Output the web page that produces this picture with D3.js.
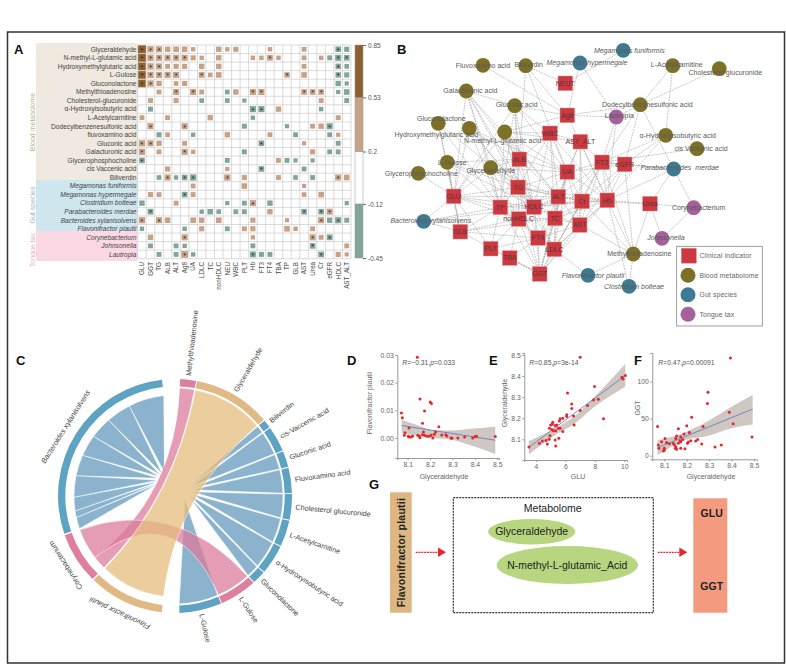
<!DOCTYPE html>
<html>
<head>
<meta charset="utf-8">
<script src="https://cdn.jsdelivr.net/npm/d3@7"></script>
<style>
  body { margin: 0; background: #fff; }
  text { font-family: "Liberation Sans", Arial, sans-serif; }
</style>
</head>
<body>
<svg id="chart"></svg>
<script>
// ---- panel A data ----
const heatRowNames = ["Glyceraldehyde", "N-methyl-L-glutamic acid", "Hydroxymethylglutaric acid", "L-Gulose", "Gluconolactone",
  "Methylthioadenosine", "Cholesterol-glucuronide", "α-Hydroxyisobutyric acid", "L-Acetylcarnitine", "Dodecylbenzenesulfonic acid",
  "fluvoxamino acid", "Gluconic acid", "Galacturonic acid", "Glycerophosphocholine", "cis Vaccenic acid", "Biliverdin",
  "Megamonas funiformis", "Megamonas hypermegale", "Clostridium bolteae", "Parabacteroides merdae", "Bacteroides xylanisolvens",
  "Flavonifractor plautii", "Corynebacterium", "Johnsonella", "Lautropia"];
const heatColNames = ["GLU", "GGT", "TG", "ALB", "ALT", "Ag8", "UA", "LDLC", "TC", "nonHDLC", "NEU", "WBC", "PLT", "Hb", "FT3",
  "FT4", "TBA", "TP", "GLB", "AST", "Urea", "Cr", "eGFR", "HDLC", "AST_ALT"];
// one list per row: [column index, correlation, significant]
const heatCells = [
  [[0,.7,1],[1,.45,1],[2,.42,1],[3,.33],[4,.36],[5,.36],[6,.22],[9,.33],[10,.22],[11,.3],[15,.22],[19,.27],[23,-.36,1],[24,-.3]],
  [[0,.68,1],[1,.45,1],[2,.42,1],[3,.42,1],[4,.42,1],[5,.42,1],[6,.3],[7,.22],[9,.33],[13,.23],[14,.23],[15,.38,1],[16,.23],[19,.27],[21,.23],[22,-.28],[23,-.42,1],[24,-.36,1]],
  [[0,.66,1],[1,.45,1],[2,.42,1],[3,.27],[4,.3],[5,.3],[7,.33],[9,.33],[19,.27],[23,-.34,1],[24,-.25]],
  [[0,.66,1],[1,.45,1],[2,.42,1],[3,.42,1],[4,.42,1],[7,.38,1],[8,.25],[9,.36],[17,.34,1],[19,.36],[23,-.34,1],[24,-.3]],
  [[0,.64,1],[1,.45,1],[2,.33],[4,.25],[5,.3],[23,-.33],[24,-.2]],
  [[2,.27],[4,.42,1],[6,.42,1],[7,.27],[10,-.25],[11,.33],[13,.42,1],[14,.42,1],[19,.36,1],[20,.36,1],[21,.36,1],[23,-.2],[24,-.36]],
  [[1,.27],[4,.3],[7,-.25],[10,-.25],[12,-.2],[21,.27],[24,-.28]],
  [[1,-.28],[13,-.42,1],[14,-.42,1],[16,.33],[21,-.22]],
  [[0,.27],[3,.27],[8,.33],[13,-.22],[23,.27]],
  [[1,.42,1],[5,.42,1],[12,-.28],[17,-.2],[20,.27],[21,.33],[22,-.42,1]],
  [[2,-.3],[3,.25],[6,-.22],[10,.33],[15,.27],[18,-.27],[22,-.27],[23,.2]],
  [[0,.45,1],[1,.42,1],[2,.33],[5,.27],[14,-.36,1],[19,.2],[23,-.27]],
  [[0,.45,1],[2,.27],[5,.42,1],[6,.22],[12,-.28],[20,.3],[22,-.27],[23,-.27]],
  [[0,-.36,1],[10,-.27],[16,.27],[17,-.27],[18,-.2],[20,-.2]],
  [[3,.3],[10,.2],[14,-.36,1],[19,-.27]],
  [[2,-.25],[3,.42,1],[4,-.22],[5,-.36,1],[6,-.44,1],[10,.45,1],[12,.3],[16,.27],[18,-.25],[20,-.27],[23,.42,1],[24,.36]],
  [[6,.27],[12,.36],[19,.2]],
  [[1,.3],[2,.27],[5,-.36,1],[6,.27],[19,.25],[21,.36]],
  [[0,-.33],[4,.27],[10,-.2],[12,-.27],[13,.42,1],[15,-.33],[24,-.2]],
  [[1,-.38,1],[7,-.22],[8,-.36],[9,-.25],[11,-.27],[12,-.27],[15,.33],[19,-.36,1],[21,-.36,1],[22,.42,1]],
  [[0,.45,1],[2,.42,1],[3,.36],[6,.36],[7,.33],[9,.36],[13,.3],[17,.2],[21,.42,1],[22,-.33],[23,-.44,1],[24,-.28]],
  [[0,-.22],[5,-.22],[7,.3],[10,-.27],[12,.27],[13,.3],[17,.36],[18,.23],[20,.27]],
  [[1,.33],[5,.42,1],[13,.22],[20,.42,1],[21,.27],[22,-.38,1]],
  [[1,-.27],[4,-.27],[5,-.22],[13,-.27],[20,-.36,1],[24,.27]],
  [[2,-.27],[4,-.27],[5,.52,1],[6,-.22],[13,-.4,1],[14,-.28],[15,-.28],[21,-.38,1],[23,.3],[24,.2]]
];
const italicFrom = 16;
const colorbarTicks = [-0.45, -0.12, 0.2, 0.53, 0.85];

// ---- panel B data ----
const clinicalNodes = ["NEUT", "Ag8", "WBC", "AST_ALT", "ALB", "UA", "FT3", "eGFR", "TG", "GLU", "ALT", "Cr", "Hb", "Urea", "TP", "HDLC",
  "nonHDLC", "TC", "AST", "GLB", "FT4", "LDLC", "PLT", "TBA", "GGT"];
const metaboliteNodes = ["Fluvoxamino acid", "Biliverdin", "Galacturonic acid", "Gluconic acid", "Gluconolactone", "Hydroxymethylglutaric acid",
  "N-methyl-L-glutamic acid", "L-Gulose", "Glyceraldehyde", "Glycerophosphocholine", "L-Acetylcarnitine", "Cholesterol glucuronide",
  "Dodecylbenzenesulfonic acid", "α-Hydroxyisobutyric acid", "cis Vaccenic acid", "Methylthioadenosine"];
const gutNodes = ["Megamonas funiformis", "Megamonas hypermegale", "Parabacteroides  merdae", "Bacteroides xylanisolvens", "Flavonifractor plautii", "Clostridium bolteae"];
const tongueNodes = ["Lautropia", "Corynebacterium", "Johnsonella"];
const networkLegend = ["Clinical indicator", "Blood metabolome", "Gut species", "Tongue tax"];
// edges written as node -> neighbours
const networkEdges = [
  ["GGT", ["FT4", "LDLC", "TC", "AST", "HDLC", "TP", "nonHDLC", "Cr", "ALT", "TG", "UA", "Hb", "PLT", "TBA", "GLB"]],
  ["LDLC", ["FT4", "TC", "AST", "Cr", "ALT", "HDLC", "nonHDLC", "Hb", "TG", "UA", "FT3"]],
  ["FT4", ["TC", "nonHDLC", "HDLC", "ALT", "Cr", "PLT", "TP", "AST", "GLB", "TG", "TBA"]],
  ["TC", ["HDLC", "AST", "Cr", "ALT", "nonHDLC", "TG", "UA", "Hb", "FT3", "WBC", "GLB"]],
  ["AST", ["Cr", "ALT", "Hb", "FT3", "eGFR", "UA", "HDLC", "AST_ALT"]],
  ["Cr", ["ALT", "Hb", "Urea", "UA", "FT3", "eGFR", "HDLC", "TG", "TP", "AST_ALT"]],
  ["Hb", ["ALT", "UA", "FT3", "eGFR", "Urea", "HDLC", "TG", "WBC", "AST_ALT", "Ag8"]],
  ["ALT", ["HDLC", "TG", "UA", "WBC", "ALB", "AST_ALT", "FT3", "TP", "GLU", "nonHDLC"]],
  ["HDLC", ["TP", "nonHDLC", "TG", "GLU", "ALB", "UA", "WBC"]],
  ["TP", ["GLU", "TG", "nonHDLC", "GLB", "ALB", "PLT"]],
  ["TG", ["GLU", "ALB", "UA", "WBC", "nonHDLC"]],
  ["nonHDLC", ["GLU", "GLB", "PLT", "TBA"]],
  ["UA", ["WBC", "AST_ALT", "FT3", "eGFR", "ALB"]],
  ["WBC", ["ALB", "AST_ALT", "Ag8"]],
  ["FT3", ["eGFR", "AST_ALT"]],
  ["GLU", ["GLB", "PLT"]],
  ["Galacturonic acid", ["GLU", "TG", "ALB", "TP", "HDLC", "ALT", "Gluconic acid", "Glyceraldehyde"]],
  ["Gluconic acid", ["GLU", "TG", "ALB", "UA", "Ag8", "HDLC", "TP", "WBC"]],
  ["Gluconolactone", ["GLU", "TG", "GLB", "TP"]],
  ["Hydroxymethylglutaric acid", ["GLU", "TG", "ALB", "TP", "HDLC", "UA"]],
  ["N-methyl-L-glutamic acid", ["GLU", "TG", "ALB", "ALT", "UA", "WBC", "Ag8", "AST_ALT", "HDLC", "TP"]],
  ["L-Gulose", ["GLU", "TG", "TP", "GLB", "HDLC", "ALB"]],
  ["Glyceraldehyde", ["GLU", "TG", "HDLC", "TP", "ALB", "ALT", "UA", "nonHDLC"]],
  ["Glycerophosphocholine", ["GLU"]],
  ["Biliverdin", ["NEUT", "Ag8", "ALB", "UA"]],
  ["Fluvoxamino acid", ["Ag8"]],
  ["Megamonas funiformis", ["NEUT"]],
  ["Megamonas hypermegale", ["Ag8", "Lautropia"]],
  ["L-Acetylcarnitine", ["Dodecylbenzenesulfonic acid", "α-Hydroxyisobutyric acid"]],
  ["Cholesterol glucuronide", ["Dodecylbenzenesulfonic acid"]],
  ["Dodecylbenzenesulfonic acid", ["Ag8", "Lautropia", "eGFR", "FT3", "Parabacteroides  merdae"]],
  ["α-Hydroxyisobutyric acid", ["FT3", "eGFR", "Hb"]],
  ["cis Vaccenic acid", ["FT3"]],
  ["Parabacteroides  merdae", ["Urea", "Corynebacterium", "FT3", "eGFR", "Hb"]],
  ["Corynebacterium", ["Urea", "Johnsonella"]],
  ["Johnsonella", ["Urea"]],
  ["Lautropia", ["FT3", "Ag8", "Hb"]],
  ["Methylthioadenosine", ["Hb", "Urea", "AST", "Cr", "eGFR", "FT3", "Flavonifractor plautii", "Clostridium bolteae"]],
  ["Flavonifractor plautii", ["LDLC"]],
  ["Clostridium bolteae", ["Hb"]],
  ["Bacteroides xylanisolvens", ["GLU", "TP", "HDLC", "GLB"]]
];

// ---- panel C data ----
const chordSources = ["Methylthioadenosine", "Glyceraldehyde", "Biliverdin", "cis-Vaccenic acid", "Gluconic acid", "Fluvoxamino acid",
  "Cholesterol glucuronide", "L-Acetylcarnitine", "α-Hydroxyisobutyric acid", "Gluconolactone", "L-Gulose ", "L-Gulose"];
const chordValues = [7.9, 38.5, 4, 12.6, 8, 12.5, 12.7, 13, 14.6, 6.6, 18.4, 21];
const chordTargets = ["Corynebacterium", "Flavonifractor plautii", "Bacteroides xylanisolvens", "Bacteroides xylanisolvens", "Bacteroides xylanisolvens", "Bacteroides xylanisolvens",
  "Bacteroides xylanisolvens", "Bacteroides xylanisolvens", "Bacteroides xylanisolvens", "Bacteroides xylanisolvens", "Corynebacterium", "Bacteroides xylanisolvens"];
const chordTargetNames = ["Flavonifractor plautii", "Corynebacterium", "Bacteroides xylanisolvens"];
// order of the links inside the target sectors, clockwise
const chordTargetOrder = ["Glyceraldehyde", "Methylthioadenosine", "L-Gulose ", "Gluconolactone", "Biliverdin", "Gluconic acid", "Fluvoxamino acid",
  "cis-Vaccenic acid", "Cholesterol glucuronide", "L-Acetylcarnitine", "α-Hydroxyisobutyric acid", "L-Gulose"];

// ---- panel D data ----
const dX = [8.143, 8.155, 8.2, 8.206, 8.175, 8.072, 8.076, 8.166, 8.239, 8.106, 8.088, 8.085, 8.103, 8.115, 8.106, 8.122, 8.145, 8.152, 8.155, 8.166,
  8.17, 8.175, 8.185, 8.196, 8.204, 8.212, 8.219, 8.225, 8.252, 8.27, 8.275, 8.293, 8.297, 8.324, 8.354, 8.39, 8.401, 8.407, 8.491];
const dY = [.0292, .0141, .013, .0125, .0098, .009, .0073, .0053, .0041, .0036, .0019, .001, .0006, .0004, .0004, .0007, .001, .0006, .0001, .0012,
  .0022, .001, .0006, .0006, .001, 0, .0014, .0022, .0011, .0012, .0007, 0, -.0001, 0, .0004, 0, .0005, .0006, .0005];
const dFitX = [8.073, 8.491];
const dFitY = [.0045, -.0008];
const dBandX = [8.073, 8.148, 8.222, 8.297, 8.394, 8.491];
const dBandHi = [.0066, .0045, .0027, .0027, .0034, .0042];
const dBandLo = [.0018, .0008, 0, -.0006, -.003, -.0058];

// ---- panel E data ----
const eX = [7, 6.14, 7.98, 9.84, 9.91, 10.07, 6.43, 6.43, 8.23, 7.91, 7.5, 7, 8.59, 6.59, 6.55, 6.09, 6.09, 5.82, 5.64, 5.59, 5.14, 5.11, 5, 5.3, 5.41, 4.91,
  5.07, 5.18, 5.34, 5.52, 5.64, 5.82, 4.95, 5.55, 5.3, 4.89, 4.68, 4.43, 4.23, 4.77, 5.34, 3.52];
const eY = [8.489, 8.32, 8.351, 8.394, 8.386, 8.403, 8.268, 8.246, 8.29, 8.287, 8.26, 8.237, 8.197, 8.168, 8.211, 8.216, 8.208, 8.2, 8.197, 8.187, 8.181, 8.171, 8.168, 8.165, 8.168, 8.152,
  8.146, 8.14, 8.14, 8.152, 8.152, 8.137, 8.117, 8.105, 8.097, 8.1, 8.094, 8.092, 8.081, 8.078, 8.068, 8.063];
const eFitX = [3.52, 10.07];
const eFitY = [8.062, 8.403];
const eBandX = [3.52, 5.5, 6.5, 8, 10.07];
const eBandHi = [8.092, 8.16, 8.203, 8.303, 8.457];
const eBandLo = [8.029, 8.129, 8.168, 8.256, 8.351];

// ---- panel F data ----
const fX = [8.395, 8.295, 8.292, 8.39, 8.407, 8.491, 8.222, 8.273, 8.2, 8.07, 8.163, 8.212, 8.188, 8.173, 8.155, 8.151, 8.103, 8.088, 8.073, 8.076, 8.11, 8.122,
  8.14, 8.145, 8.152, 8.149, 8.155, 8.173, 8.173, 8.163, 8.1, 8.1, 8.096, 8.192, 8.203, 8.207, 8.218, 8.24, 8.249, 8.267, 8.326, 8.354, 8.182, 8.17];
const fY = [132, 85.6, 70.7, 58.6, 43.2, 25.2, 51.8, 39.6, 40.5, 39.6, 36.5, 31.5, 29.3, 25.7, 26.6, 23.4, 23.4, 18.9, 14.4, 9.9, 18, 16.2,
  16.7, 14.4, 12.2, 9.9, 8.6, 9.9, 18.9, 16.7, 9.9, 7.7, 6.3, 9.5, 16.7, 18.5, 20.3, 19.8, 22, 15.8, 11.7, 14.4, 22, 20.3];
const fFitX = [8.07, 8.494];
const fFitY = [10.8, 63];
const fBandX = [8.07, 8.192, 8.296, 8.4, 8.494];
const fBandHi = [21, 31.5, 46.8, 66, 82];
const fBandLo = [1, 21, 27, 37, 42];

const svgWidth = 786, svgHeight = 665;
const textColor = "#555";
const chart = d3.select("#chart").attr("width", svgWidth).attr("height", svgHeight);

chart.append("rect").attr("x", 7.5).attr("y", 32).attr("width", 777).attr("height", 631)
  .attr("fill", "#fff").attr("stroke", "#333").attr("stroke-width", 1.5);

function panelLetter(label, x, y) {
  chart.append("text").attr("x", x).attr("y", y).attr("font-size", 13).attr("font-weight", "bold").attr("fill", "#111").text(label);
}
panelLetter("A", 14, 54);
panelLetter("B", 397, 54);
panelLetter("C", 16, 365);
panelLetter("D", 347, 365);
panelLetter("E", 489, 365);
panelLetter("F", 634, 365);
panelLetter("G", 369, 489);

// ---- A: correlation heatmap ----
function drawHeatmap() {
  const g = chart.append("g");
  const xScale = d3.scaleBand().domain(heatColNames).range([137.7, 351]);
  const yScale = d3.scaleBand().domain(heatRowNames).range([45, 258.7]);
  const size = d3.scaleSqrt().domain([0, 0.85]).range([0, 8.6]);
  const color = d3.scaleThreshold().domain([-0.12, 0.2, 0.53]).range(["#82a599", "#fff", "#c6a287", "#8f602f"]);

  g.append("rect").attr("x", 36).attr("y", 43).attr("width", 101.7).attr("height", 137).attr("fill", "#efe9df");
  g.append("rect").attr("x", 36).attr("y", 180).attr("width", 101.7).attr("height", 51).attr("fill", "#cfe6ef");
  g.append("rect").attr("x", 36).attr("y", 231).attr("width", 101.7).attr("height", 30).attr("fill", "#fbd9e4");

  [["Blood metabolome", 122, "#bcb27c"], ["Gut species", 205, "#9dbac4"], ["Tongue tax", 250, "#e5b5ca"]].forEach(function(d) {
    g.append("text").attr("transform", "translate(35," + d[1] + ") rotate(-90)")
      .attr("text-anchor", "middle").attr("font-size", 7).attr("fill", d[2]).text(d[0]);
  });

  xScale.domain().concat("end").forEach(function(c, i) {
    const x = 137.7 + i * xScale.bandwidth();
    g.append("line").attr("x1", x).attr("x2", x).attr("y1", 45).attr("y2", 258.7).attr("stroke", "#ccc").attr("stroke-width", 0.7);
  });
  yScale.domain().concat("end").forEach(function(c, i) {
    const y = 45 + i * yScale.bandwidth();
    g.append("line").attr("x1", 137.7).attr("x2", 351).attr("y1", y).attr("y2", y).attr("stroke", "#ccc").attr("stroke-width", 0.7);
  });

  heatCells.forEach(function(cells, r) {
    const yc = yScale(heatRowNames[r]) + yScale.bandwidth() / 2;
    cells.forEach(function(c) {
      const xc = xScale(heatColNames[c[0]]) + xScale.bandwidth() / 2;
      const s = size(Math.abs(c[1]));
      g.append("rect").attr("x", xc - s / 2).attr("y", yc - s / 2).attr("width", s).attr("height", s).attr("fill", color(c[1]));
      if (c[2]) {
        g.append("text").attr("x", xc).attr("y", yc + 3.4).attr("text-anchor", "middle").attr("font-size", 7).attr("fill", "#222").text("*");
      }
    });
  });

  g.selectAll(".rowname").data(heatRowNames).enter().append("text")
    .attr("x", 136.5).attr("y", d => yScale(d) + yScale.bandwidth() / 2 + 2.3)
    .attr("text-anchor", "end").attr("font-size", 6.6).attr("fill", "#444")
    .attr("font-style", (d, i) => i >= italicFrom ? "italic" : "normal")
    .text(d => d);

  g.selectAll(".colname").data(heatColNames).enter().append("text")
    .attr("transform", d => "translate(" + (xScale(d) + xScale.bandwidth() / 2 + 2.3) + ",262) rotate(-90)")
    .attr("text-anchor", "end").attr("font-size", 6.3).attr("fill", "#444").text(d => d);

  // colour bar
  const cbScale = d3.scaleLinear().domain([-0.45, 0.85]).range([258, 45]);
  const pairs = d3.pairs(colorbarTicks);
  g.selectAll(".cb").data(pairs).enter().append("rect")
    .attr("x", 355).attr("width", 8)
    .attr("y", d => cbScale(d[1])).attr("height", d => cbScale(d[0]) - cbScale(d[1]))
    .attr("fill", d => color((d[0] + d[1]) / 2))
    .attr("stroke", "#999").attr("stroke-width", 0.5);
  const cbAxis = g.append("g").attr("transform", "translate(363,0)")
    .call(d3.axisRight(cbScale).tickValues(colorbarTicks).tickFormat(d => d).tickSize(3).tickPadding(2));
  cbAxis.select(".domain").remove();
  cbAxis.selectAll("line").attr("stroke", "#666");
  cbAxis.selectAll("text").attr("font-size", 6.5).attr("fill", textColor).attr("font-family", "Liberation Sans");
}
drawHeatmap();

// ---- B: network ----
function drawNetwork() {
  const g = chart.append("g");
  // layout units of the drawing, mapped by two scales
  const layoutX = {NEUT: 165.3, Ag8: 167.3, WBC: 150, AST_ALT: 180.3, ALB: 119.3, UA: 167.3, FT3: 202, eGFR: 224.7, TG: 118, GLU: 53.7, ALT: 158.3, Cr: 182, Hb: 207.3,
    Urea: 250, TP: 100.3, HDLC: 134, nonHDLC: 118.7, TC: 155, AST: 179.7, GLB: 60.3, FT4: 138, LDLC: 154.3, PLT: 90.7, TBA: 109.7, GGT: 139.7,
    "Fluvoxamino acid": 83, "Biliverdin": 125.7, "Galacturonic acid": 66.3, "Gluconic acid": 114.7, "Gluconolactone": 38.3, "Hydroxymethylglutaric acid": 69.3,
    "N-methyl-L-glutamic acid": 104.7, "L-Gulose": 47.3, "Glyceraldehyde": 90.7, "Glycerophosphocholine": 18.3, "L-Acetylcarnitine": 272.7, "Cholesterol glucuronide": 319.3,
    "Dodecylbenzenesulfonic acid": 240.3, "α-Hydroxyisobutyric acid": 265.7, "cis Vaccenic acid": 297, "Methylthioadenosine": 233.3,
    "Megamonas funiformis": 223.3, "Megamonas hypermegale": 180, "Parabacteroides  merdae": 273.7, "Bacteroides xylanisolvens": 23.7, "Flavonifractor plautii": 188, "Clostridium bolteae": 229,
    "Lautropia": 216.3, "Corynebacterium": 293.7, "Johnsonella": 262};
  const layoutY = {NEUT: 83.3, Ag8: 115.3, WBC: 133.3, AST_ALT: 141.7, ALB: 159.3, UA: 172, FT3: 162.3, eGFR: 164.3, TG: 187.3, GLU: 196.3, ALT: 196.7, Cr: 201.3, Hb: 200.3,
    Urea: 203.7, TP: 207.3, HDLC: 207, nonHDLC: 219, TC: 218.3, AST: 225, GLB: 231.7, FT4: 238, LDLC: 249.3, PLT: 248.7, TBA: 258, GGT: 274,
    "Fluvoxamino acid": 65.3, "Biliverdin": 65.7, "Galacturonic acid": 91, "Gluconic acid": 105.7, "Gluconolactone": 123.3, "Hydroxymethylglutaric acid": 128.3,
    "N-methyl-L-glutamic acid": 132, "L-Gulose": 162.3, "Glyceraldehyde": 167.7, "Glycerophosphocholine": 173.3, "L-Acetylcarnitine": 65.7, "Cholesterol glucuronide": 68.7,
    "Dodecylbenzenesulfonic acid": 104.7, "α-Hydroxyisobutyric acid": 135.3, "cis Vaccenic acid": 148.7, "Methylthioadenosine": 254,
    "Megamonas funiformis": 50.3, "Megamonas hypermegale": 63, "Parabacteroides  merdae": 169, "Bacteroides xylanisolvens": 221.3, "Flavonifractor plautii": 275.3, "Clostridium bolteae": 286.3,
    "Lautropia": 117, "Corynebacterium": 207.7, "Johnsonella": 238.3};
  const labelShift = {"Hydroxymethylglutaric acid": [-33, 6], "N-methyl-L-glutamic acid": [-2, 9], "Gluconolactone": [3, -5], "Glyceraldehyde": [0, 3],
    "α-Hydroxyisobutyric acid": [12, 0], "Cholesterol glucuronide": [6, 4], "Galacturonic acid": [4, 0], "Gluconic acid": [2, -1], "L-Gulose": [5, 0],
    "Megamonas funiformis": [6, 0], "Megamonas hypermegale": [7, 0], "Dodecylbenzenesulfonic acid": [7, 0], "L-Acetylcarnitine": [4, -1], "Biliverdin": [3, -1],
    "cis Vaccenic acid": [4, 0], "Parabacteroides  merdae": [6, -1], "Corynebacterium": [5, 0], "Johnsonella": [4, -1], "Bacteroides xylanisolvens": [7, -1],
    "Methylthioadenosine": [6, 0], "Flavonifractor plautii": [5, 0], "Clostridium bolteae": [5, 0], "Lautropia": [3, -1], "Glycerophosphocholine": [3, 0]};
  const px = d3.scaleLinear().domain([0, 380]).range([400, 780]);
  const py = d3.scaleLinear().domain([0, 300]).range([0, 300]);

  const links = [];
  networkEdges.forEach(function(e) { e[1].forEach(function(t) { links.push([e[0], t]); }); });
  g.selectAll(".edge").data(links).enter().append("line")
    .attr("x1", d => px(layoutX[d[0]])).attr("y1", d => py(layoutY[d[0]]))
    .attr("x2", d => px(layoutX[d[1]])).attr("y2", d => py(layoutY[d[1]]))
    .attr("stroke", "#9a9a9a").attr("stroke-width", 0.55).attr("stroke-dasharray", "2,0.8");

  const circleKinds = [[metaboliteNodes, "#7e7127", false], [gutNodes, "#3e7a93", true], [tongueNodes, "#a6609c", false]];
  g.selectAll(".square").data(clinicalNodes).enter().append("rect")
    .attr("x", d => px(layoutX[d]) - 7.3).attr("y", d => py(layoutY[d]) - 7.3)
    .attr("width", 14.6).attr("height", 14.6)
    .attr("fill", "#cb3a41").attr("stroke", "#e98a8e").attr("stroke-width", 0.5);
  circleKinds.forEach(function(k) {
    g.selectAll(null).data(k[0]).enter().append("circle")
      .attr("cx", d => px(layoutX[d])).attr("cy", d => py(layoutY[d])).attr("r", 7.4).attr("fill", k[1]);
  });
  const allLabels = clinicalNodes.concat(metaboliteNodes, gutNodes, tongueNodes);
  g.selectAll(".nlabel").data(allLabels).enter().append("text")
    .attr("x", d => px(layoutX[d]) + (labelShift[d] ? labelShift[d][0] : 0))
    .attr("y", d => py(layoutY[d]) + (labelShift[d] ? labelShift[d][1] : 0) + 2.4)
    .attr("text-anchor", "middle").attr("font-size", 7)
    .attr("font-style", d => (gutNodes.indexOf(d) >= 0 || d == "Johnsonella") ? "italic" : "normal")
    .attr("fill", d => clinicalNodes.indexOf(d) >= 0 ? "#5c3438" : "#5a5a5a")
    .style("white-space", "pre")
    .text(d => d);

  // legend
  g.append("rect").attr("x", 676.7).attr("y", 246.3).attr("width", 85.6).attr("height", 79.7)
    .attr("fill", "#fff").attr("stroke", "#888").attr("stroke-width", 0.8);
  const legendY = d3.scalePoint().domain(networkLegend).range([255.7, 314.3]);
  const legendColors = ["#cb3a41", "#7e7127", "#3e7a93", "#a6609c"];
  networkLegend.forEach(function(name, i) {
    if (i == 0) {
      g.append("rect").attr("x", 681.3).attr("y", legendY(name) - 7.5).attr("width", 15).attr("height", 15)
        .attr("fill", legendColors[i]).attr("stroke", "#e98a8e").attr("stroke-width", 0.5);
    } else {
      g.append("circle").attr("cx", 688).attr("cy", legendY(name)).attr("r", 7.5).attr("fill", legendColors[i]);
    }
    g.append("text").attr("x", 699.5).attr("y", legendY(name) + 2.4).attr("font-size", 6.8).attr("fill", "#666")
      .attr("letter-spacing", 0.15).text(name);
  });
}
drawNetwork();

// ---- C: chord diagram ----
function drawChord() {
  const g = chart.append("g").attr("transform", "translate(175,496)");
  const rad = Math.PI / 180;
  const sectorColor = {blue: "#5fa3c3", tan: "#e0b985", pink: "#dd7f9f"};
  const ribbonColor = {blue: "#6499bd", tan: "#e4bc7d", pink: "#dc7b9c"};
  const kindOfTarget = {"Corynebacterium": "pink", "Flavonifractor plautii": "tan", "Bacteroides xylanisolvens": "blue"};

  // right half: one sector per source
  let angle = 2.5;
  const sources = {};
  chordSources.forEach(function(name, i) {
    sources[name] = {startAngle: angle * rad, endAngle: (angle + chordValues[i]) * rad, radius: 108, kind: kindOfTarget[chordTargets[i]]};
    angle += chordValues[i] + 0.5;
  });

  // left half: targets, links stacked in chordTargetOrder
  const k = 0.976;
  let tAngle = 186.5;
  const targets = {};
  const targetSpans = [];
  chordTargetNames.forEach(function(name) {
    const start = tAngle;
    chordTargetOrder.forEach(function(s) {
      const i = chordSources.indexOf(s);
      if (chordTargets[i] != name) return;
      targets[s] = {startAngle: tAngle * rad, endAngle: (tAngle + chordValues[i] * k) * rad, radius: 101};
      tAngle += chordValues[i] * k;
    });
    targetSpans.push({name: name, startAngle: start * rad, endAngle: tAngle * rad, kind: kindOfTarget[name]});
    tAngle += 0.7;
  });

  const ring = d3.arc().innerRadius(109.7).outerRadius(117);
  const ribbon = d3.ribbon();

  // the blue links are two wedges, each tip sitting close to a focus near the
  // centre, joined by a thin neck
  function pinchedRibbon(s, t) {
    const q = Math.PI / 2;
    const point = (r, a) => [r * Math.cos(a - q), r * Math.sin(a - q)];
    const sTip = point(9, (s.startAngle + s.endAngle) / 2);
    const tTip = point(9, (t.startAngle + t.endAngle) / 2);
    const sx = 8 + sTip[0], sy = -5 + sTip[1], tx = -8 + tTip[0], ty = -15 + tTip[1];
    const s0 = point(s.radius, s.startAngle), t1 = point(t.radius, t.endAngle);
    const p = d3.path();
    p.moveTo(s0[0], s0[1]);
    p.arc(0, 0, s.radius, s.startAngle - q, s.endAngle - q);
    p.lineTo(sx, sy);
    p.lineTo(tx, ty);
    p.lineTo(t1[0], t1[1]);
    p.arc(0, 0, t.radius, t.endAngle - q, t.startAngle - q, true);
    p.lineTo(tx, ty);
    p.lineTo(sx, sy);
    p.closePath();
    return p.toString();
  }

  const drawOrder = ["blue", "pink", "tan"];
  drawOrder.forEach(function(kind) {
    chordSources.forEach(function(name) {
      if (sources[name].kind != kind) return;
      const d = kind == "blue" ? pinchedRibbon(sources[name], targets[name]) : ribbon({source: sources[name], target: targets[name]});
      g.append("path").attr("d", d)
        .attr("fill", ribbonColor[kind]).attr("fill-opacity", 0.75).attr("stroke", "#fff").attr("stroke-width", 0.5);
    });
  });
  chordSources.forEach(function(name) {
    g.append("path").attr("d", ring(sources[name])).attr("fill", sectorColor[sources[name].kind]);
  });
  targetSpans.forEach(function(t) {
    g.append("path").attr("d", ring(t)).attr("fill", sectorColor[t.kind]);
  });

  // radial labels on the right, tangent labels on the left
  chordSources.forEach(function(name) {
    const a = (sources[name].startAngle + sources[name].endAngle) / 2 / rad;
    g.append("text").attr("transform", "rotate(" + (a - 90) + ") translate(121,2.3)")
      .attr("font-size", 7.2).attr("fill", "#444").text(name.trim());
  });
  targetSpans.forEach(function(t) {
    const a = (t.startAngle + t.endAngle) / 2 / rad;
    g.append("text").attr("transform", "rotate(" + a + ") translate(0,-127)")
      .attr("text-anchor", "middle").attr("font-size", 7.4).attr("fill", "#444")
      .attr("font-style", t.name == "Corynebacterium" ? "normal" : "italic").text(t.name);
  });
}
drawChord();

// ---- D, E, F: scatter plots ----
function anchored(v0, v1, p0, p1, pa, pb) {
  const s = d3.scaleLinear().domain([v0, v1]).range([p0, p1]);
  return s.domain([s.invert(pa), s.invert(pb)]).range([pa, pb]);
}

function drawScatter(p) {
  const g = chart.append("g");
  g.append("path").datum(d3.range(p.bandX.length))
    .attr("d", d3.area().curve(d3.curveMonotoneX)
      .x(i => p.x(p.bandX[i])).y0(i => p.y(p.bandLo[i])).y1(i => p.y(p.bandHi[i])))
    .attr("fill", "#c9c1bb").attr("fill-opacity", 0.9);
  g.append("path").datum(d3.range(p.fitX.length))
    .attr("d", d3.line().x(i => p.x(p.fitX[i])).y(i => p.y(p.fitY[i])))
    .attr("fill", "none").attr("stroke", "#6a7dbd").attr("stroke-width", 0.9);
  g.selectAll(".pt").data(d3.range(p.ptX.length)).enter().append("circle")
    .attr("cx", i => p.x(p.ptX[i])).attr("cy", i => p.y(p.ptY[i])).attr("r", 1.5).attr("fill", "#e3272d");

  const xAxis = g.append("g").attr("transform", "translate(0," + p.y.range()[0] + ")")
    .call(d3.axisBottom(p.x).tickValues(p.xTicks).tickFormat(p.xFormat).tickSize(2).tickPadding(2));
  const yAxis = g.append("g").attr("transform", "translate(" + p.x.range()[0] + ",0)")
    .call(d3.axisLeft(p.y).tickValues(p.yTicks).tickFormat(p.yFormat).tickSize(2).tickPadding(1.5));
  [xAxis, yAxis].forEach(function(a) {
    a.select(".domain").attr("stroke", "#999").attr("stroke-width", 1);
    a.selectAll("line").attr("stroke", "#999");
    a.selectAll("text").attr("font-size", 6.8).attr("fill", "#666").attr("font-family", "Liberation Sans");
  });

  g.append("text").attr("x", p.titleX).attr("y", 479).attr("text-anchor", "middle")
    .attr("font-size", 7).attr("fill", "#666").text(p.xTitle);
  g.append("text").attr("transform", "translate(" + p.yTitleX + "," + p.yTitleY + ") rotate(-90)").attr("text-anchor", "middle")
    .attr("font-size", 7).attr("fill", "#666").text(p.yTitle);
  const t = g.append("text").attr("x", p.labelX).attr("y", 364.5).attr("font-size", 6.8).attr("fill", "#555");
  t.append("tspan").attr("font-style", "italic").text("R");
  t.append("tspan").text(p.rText + ",");
  t.append("tspan").attr("font-style", "italic").text("p");
  t.append("tspan").text(p.pText);
}

drawScatter({
  x: anchored(8.1, 8.5, 407.7, 497.3, 397.3, 499), y: anchored(0, 0.03, 438, 355, 458, 355),
  ptX: dX, ptY: dY, fitX: dFitX, fitY: dFitY, bandX: dBandX, bandHi: dBandHi, bandLo: dBandLo,
  xTicks: [8.1, 8.2, 8.3, 8.4, 8.5], yTicks: [0, 0.01, 0.02, 0.03], xFormat: d3.format(".1f"), yFormat: d3.format(".2f"),
  xTitle: "Glyceraldehyde", yTitle: "Flavonifractor plautii", titleX: 444, yTitleX: 372, yTitleY: 403, labelX: 402.3,
  rText: "=−0.31", pText: "=0.033"
});
drawScatter({
  x: anchored(4, 10, 536, 624.3, 524.3, 627), y: anchored(8.1, 8.5, 439.3, 355, 460, 353),
  ptX: eX, ptY: eY, fitX: eFitX, fitY: eFitY, bandX: eBandX, bandHi: eBandHi, bandLo: eBandLo,
  xTicks: [4, 6, 8, 10], yTicks: [8.1, 8.2, 8.3, 8.4, 8.5], xFormat: d3.format("d"), yFormat: d3.format(".1f"),
  xTitle: "GLU", yTitle: "Glyceraldehyde", titleX: 578, yTitleX: 507, yTitleY: 403, labelX: 529.3,
  rText: "=0.85", pText: "=3e-14"
});
drawScatter({
  x: anchored(8.1, 8.5, 664.3, 754, 652.3, 757), y: anchored(0, 100, 455.7, 381.7, 459.3, 353),
  ptX: fX, ptY: fY, fitX: fFitX, fitY: fFitY, bandX: fBandX, bandHi: fBandHi, bandLo: fBandLo,
  xTicks: [8.1, 8.2, 8.3, 8.4, 8.5], yTicks: [0, 50, 100], xFormat: d3.format(".1f"), yFormat: d3.format("d"),
  xTitle: "Glyceraldehyde", yTitle: "GGT", titleX: 711, yTitleX: 640, yTitleY: 408, labelX: 658.3,
  rText: "=0.47", pText: "=0.00091"
});

// ---- G: mediation sketch ----
function drawMediation() {
  const g = chart.append("g");
  g.append("rect").attr("x", 390).attr("y", 492.3).attr("width", 21.7).attr("height", 120.4).attr("fill", "#dcb781");
  g.append("text").attr("transform", "translate(404.6,552.5) rotate(-90)").attr("text-anchor", "middle")
    .attr("font-size", 10.5).attr("font-weight", "bold").attr("fill", "#222").attr("letter-spacing", 0.25).text("Flavonifractor plautii");

  g.append("rect").attr("x", 453.3).attr("y", 497.7).attr("width", 200).attr("height", 115)
    .attr("fill", "#fff").attr("stroke", "#333").attr("stroke-width", 1.2).attr("stroke-dasharray", "2,1");
  g.append("text").attr("x", 552.7).attr("y", 512).attr("text-anchor", "middle").attr("font-size", 10.5).attr("fill", "#222").text("Metabolome");

  g.append("ellipse").attr("cx", 531.7).attr("cy", 531.7).attr("rx", 43.7).attr("ry", 12.7).attr("fill", "#b8d67f");
  g.append("text").attr("x", 531.7).attr("y", 535.4).attr("text-anchor", "middle").attr("font-size", 10.5).attr("fill", "#222").text("Glyceraldehyde");
  g.append("ellipse").attr("cx", 567.3).attr("cy", 565).attr("rx", 70.7).attr("ry", 19).attr("fill", "#b8d67f");
  g.append("text").attr("x", 567.3).attr("y", 568.7).attr("text-anchor", "middle").attr("font-size", 10.5).attr("fill", "#222").text("N-methyl-L-glutamic_Acid");

  [[415.7, 446], [657.7, 687.3]].forEach(function(a) {
    g.append("line").attr("x1", a[0]).attr("x2", a[1] - 6).attr("y1", 552.3).attr("y2", 552.3)
      .attr("stroke", "#e8262c").attr("stroke-width", 1.2).attr("stroke-dasharray", "2,0.8");
    g.append("path").attr("d", d3.line()([[a[1] - 8, 547.6], [a[1], 552.3], [a[1] - 8, 557]]) + "Z").attr("fill", "#e8262c");
  });

  g.append("rect").attr("x", 693.3).attr("y", 498.3).attr("width", 34).attr("height", 114.4).attr("fill", "#f49b7f");
  g.append("text").attr("x", 711.7).attr("y", 517).attr("text-anchor", "middle").attr("font-size", 10.5).attr("font-weight", "bold").attr("fill", "#222").text("GLU");
  g.append("text").attr("x", 711.7).attr("y", 590).attr("text-anchor", "middle").attr("font-size", 10.5).attr("font-weight", "bold").attr("fill", "#222").text("GGT");
}
drawMediation();
</script>
</body>
</html>
